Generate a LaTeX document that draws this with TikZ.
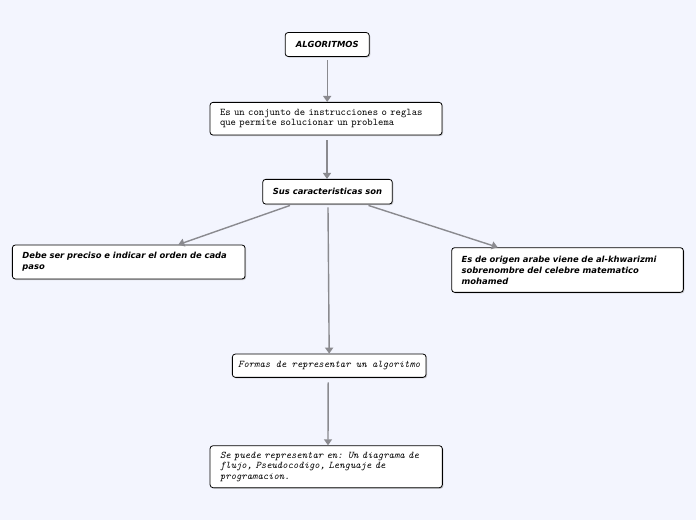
\documentclass[tikz,border=0pt]{standalone}
\usepackage{fontspec}
\setmainfont{DejaVu Sans}
\usepackage{xcolor}
\usetikzlibrary{
  arrows.meta,
  positioning,
  calc,
  shadows
}
\definecolor{mapbg}{RGB}{243, 245, 254}
\definecolor{linkgray}{RGB}{138, 138, 143}

\begin{document}
\begin{tikzpicture}[x=1pt, y=-1pt,
    rbox/.style={
        draw=black, fill=white, rounded corners=3pt, line width=0.8pt,
        drop shadow={shadow xshift=1.1pt, shadow yshift=-1.1pt, fill=black!40},
        inner xsep=10pt, inner ysep=0pt
    },
  headbox/.style={rbox, align=center,
    font=\fontsize{8.4}{11}\selectfont\bfseries\itshape},
  notebox/.style={rbox, align=left,
    font=\fontsize{8.4}{11}\selectfont\bfseries\itshape},
  codebox/.style={rbox, align=left,
    font=\ttfamily\fontsize{10.2}{10.5}\selectfont},
  link/.style={draw=linkgray, line width=1.4pt,
    -{Triangle[length=6pt, width=8pt]}}
]
\def\xM{327}
\fill[mapbg] (0,0) rectangle (696,520);

\node[headbox, minimum width=84pt, minimum height=24pt] (algo) at (327.2,44.5) {ALGORITMOS};

\node[codebox, text width=212pt, minimum height=32.7pt] (def) at (326,118.7) {%
  Es un conjunto de instrucciones o reglas\\
  que permite solucionar un problema};

\node[headbox, minimum width=129.6pt, minimum height=24.7pt] (sus) at (327.5,191.7) {Sus caracteristicas son};

\node[notebox, text width=212.7pt, minimum height=34pt] (debe) at (128.7,262) {%
  Debe ser preciso e indicar el orden de cada\\
  paso};

\node[notebox, text width=211.7pt, minimum height=44.7pt] (orig) at (567.5,270) {%
  Es de origen arabe viene de al-khwarizmi\\
  sobrenombre del celebre matematico\\
  mohamed};

\node[codebox, align=center, minimum width=193.7pt, minimum height=23.3pt, inner xsep=4pt,
  font=\ttfamily\fontsize{10.2}{10.5}\selectfont\itshape] (formas) at (329.2,365.7) {%
  Formas de representar un algoritmo};

\node[codebox, text width=212.3pt, minimum height=42pt,
  font=\ttfamily\fontsize{10.2}{10.5}\selectfont\itshape] (repr) at (326.2,466.7) {%
  Se puede representar en: Un diagrama de\\
  flujo, Pseudocodigo, Lenguaje de\\
  programacion.};

\draw[link] ($(algo.south)+(0,3.5)$) -- (algo.south |- def.north);
\draw[link] ($(def.south -| \xM,0)+(0,5)$) -- (sus.north -| \xM,0);
\draw[link] ($(sus.south)+(-37.5,1)$) -- ($(debe.north)+(49.6,0)$);
\draw[link] ($(sus.south)+(41,1)$) -- ($(orig.north)+(-69.8,0)$);
\draw[link] ($(sus.south)+(0.5,3)$) -- (formas.north);
\draw[link] ($(formas.south)+(-1,4.5)$) -- ($(repr.north)+(1.8,0)$);

\end{tikzpicture}
\end{document}
